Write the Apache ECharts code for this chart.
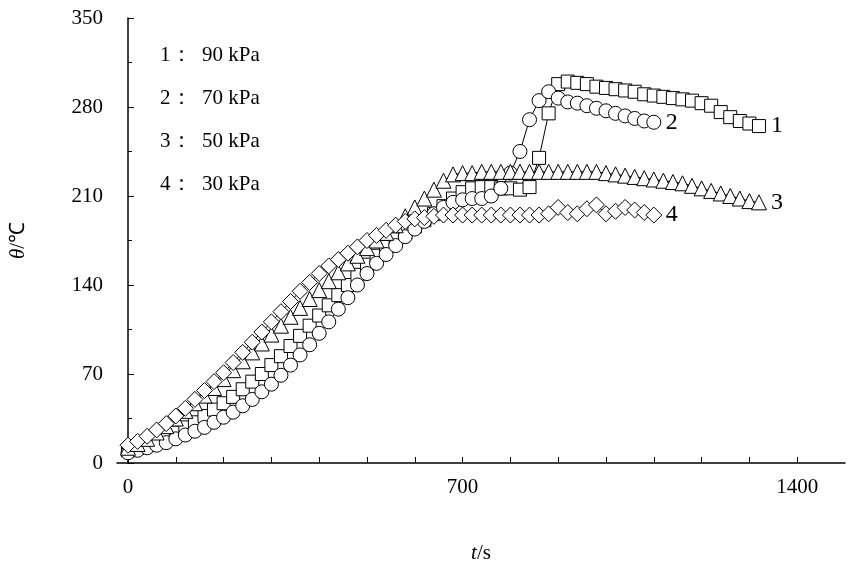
<!DOCTYPE html><html><head><meta charset="utf-8"><script src="https://cdn.jsdelivr.net/npm/echarts@6/dist/echarts.min.js"></script></head><body style="margin:0"><div id="c" style="width:851px;height:569px"></div><script>
const t = [];for(let i=0;i<=66;i++)t.push(i*20);
const s1=[10,12,14,17,20,24,28,32,37,42,47,52,58,64,70,77,84,92,100,108,116,124,132,140,148,156,163,170,176,181,186,191,196,202,208,213,216,217,217,216,216,215,217,240,275,298,300,299,298,296,295,294,293,292,290,289,288,287,286,285,283,281,276,272,269,267,265];
const s2=[8,10,12,14,16,19,22,25,28,32,36,40,45,50,56,62,69,77,85,93,102,111,121,130,140,149,157,164,171,178,184,190,196,201,205,207,208,208,210,216,228,245,270,285,292,287,284,283,281,279,277,275,273,271,269,268];
const s3=[12,15,19,24,29,35,41,47,53,59,66,73,80,87,94,101,108,115,122,129,136,143,150,157,163,169,175,181,187,194,201,208,215,222,227,228,228,229,229,229,229,229,229,229,229,229,229,229,229,229,228,227,226,225,224,223,222,221,220,218,216,214,212,210,208,206,205];
const s4=[14,17,21,26,31,37,43,50,57,64,71,79,87,95,103,111,119,127,135,142,149,155,160,165,170,175,179,183,187,190,192,193,194,195,195,195,195,195,195,195,195,195,195,195,196,201,197,196,200,203,196,198,201,199,197,195];
const names=['1','2','3','4'];
const symbols=['rect','circle','triangle','diamond'];
const sizes=[13,14,15,16];
const legendText=['1：  90 kPa','2：  70 kPa','3：  50 kPa','4：  30 kPa'];
const all=[s1,s2,s3,s4];
const font='Liberation Serif';
const ch=echarts.init(document.getElementById('c'));
ch.setOption({
 animation:false,
 grid:{left:113,right:6,top:18,bottom:104},
 xAxis:{type:'value',min:-23,max:1500,splitLine:{show:false},
  axisLine:{lineStyle:{color:'#000',width:1.5}},
  axisTick:{inside:true,length:6,customValues:[0,100,200,300,400,500,600,700,800,900,1000,1100,1200,1300,1400],lineStyle:{color:'#000'}},
  axisLabel:{customValues:[0,700,1400],formatter:v=>String(v),color:'#000',fontFamily:font,fontSize:21,margin:14},
  name:'{i|t}/s',nameLocation:'middle',nameGap:80,nameTextStyle:{color:'#000',fontFamily:font,fontSize:21,rich:{i:{fontStyle:'italic',fontFamily:font,fontSize:21,color:'#000'}}}},
 yAxis:{type:'value',min:0,max:350,interval:70,splitLine:{show:false},
  axisLine:{show:true,lineStyle:{color:'#000',width:1.5}},
  axisTick:{show:true,inside:true,length:6,lineStyle:{color:'#000'}},
  minorTick:{show:true,splitNumber:2,length:4,lineStyle:{color:'#000'}},
  axisLabel:{color:'#000',fontFamily:font,fontSize:21,margin:14},
  name:'{i|θ}/℃',nameLocation:'middle',nameGap:88,nameRotate:90,nameTextStyle:{color:'#000',fontFamily:font,fontSize:21,rich:{i:{fontStyle:'italic',fontFamily:font,fontSize:21,color:'#000'}}}},
 graphic:legendText.map((s,i)=>({type:'text',left:160,top:45+i*43,style:{text:s,font:'21px "Liberation Serif"',fill:'#000'}})),
 series:all.map((d,i)=>({type:'line',name:names[i],data:d.map((v,j)=>[t[j],v]),symbol:symbols[i],symbolSize:sizes[i],
  showAllSymbol:true,clip:false,
  itemStyle:{color:'#fff',borderColor:'#000',borderWidth:1},
  lineStyle:{color:'#000',width:1},
  endLabel:{show:true,formatter:names[i],color:'#000',fontFamily:font,fontSize:24,distance:12}}))
});
</script></body></html>
